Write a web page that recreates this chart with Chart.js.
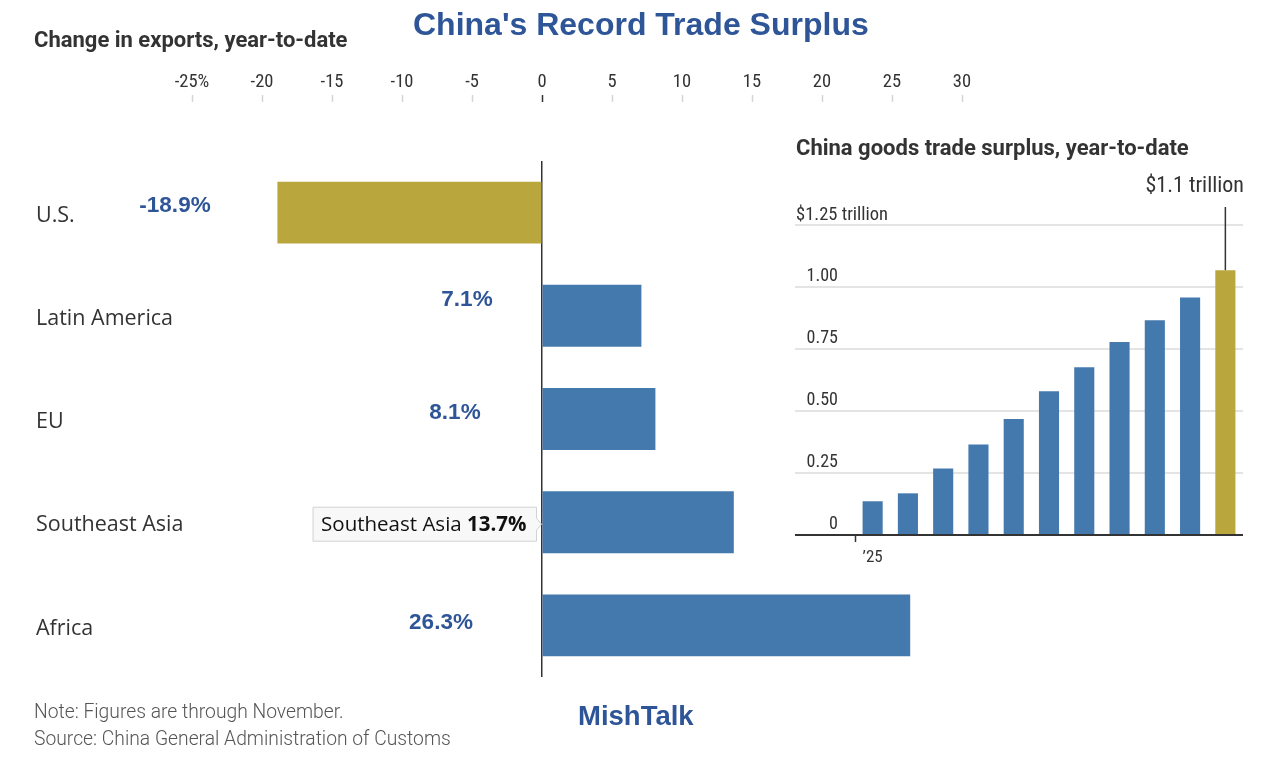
<!DOCTYPE html>
<html>
<head>
<meta charset="utf-8">
<script src="https://cdn.jsdelivr.net/npm/chart.js@4.4.1/dist/chart.umd.min.js"></script>
<style>
  body { margin: 0; background: #fff; width: 1270px; height: 758px; position: relative; overflow: hidden; font-family: Roboto, sans-serif; }
  canvas { position: absolute; }
  #main { left: 0; top: 0; }
  #inset { left: 780px; top: 130px; }
  .txt { position: absolute; white-space: nowrap; }
  .title { left: 413px; top: 6px; line-height: 33px; font: bold 32px "Liberation Sans", Arial, sans-serif; color: #2e5597; }
  .sub { left: 34px; top: 28px; line-height: 24px; font-weight: bold; font-size: 22px; color: #333; }
  .insetTitle { left: 796px; top: 136px; line-height: 24px; font-weight: bold; font-size: 22px; color: #333; }
  .note { left: 34px; line-height: 22px; font-size: 19.3px; font-weight: 300; color: #555; }
  .brand { left: 578px; top: 700px; line-height: 29px; font: bold 27.5px "Liberation Sans", Arial, sans-serif; color: #2e5597; }
</style>
</head>
<body>
<canvas id="main" width="1270" height="758"></canvas>
<canvas id="inset" width="480" height="450"></canvas>

<div class="txt title">China's Record Trade Surplus</div>
<div class="txt sub">Change in exports, year-to-date</div>
<div class="txt insetTitle">China goods trade surplus, year-to-date</div>
<div class="txt note" style="top:701px">Note: Figures are through November.</div>
<div class="txt note" style="top:728px">Source: China General Administration of Customs</div>
<div class="txt brand">MishTalk</div>

<script>
const regions = ['U.S.', 'Latin America', 'EU', 'Southeast Asia', 'Africa'];
const exportChange = [-18.9, 7.1, 8.1, 13.7, 26.3];
const xTickLabels = ['-25%', '-20', '-15', '-10', '-5', '0', '5', '10', '15', '20', '25', '30'];

const months = ['Jan', 'Feb', 'Mar', 'Apr', 'May', 'Jun', 'Jul', 'Aug', 'Sep', 'Oct', 'Nov'];
const surplus = [0.136, 0.168, 0.268, 0.365, 0.468, 0.58, 0.676, 0.778, 0.866, 0.958, 1.068];
const yearLabel = '\u201925';
const surplusTicks = ['0', '0.25', '0.50', '0.75', '1.00', '$1.25 trillion'];
const latestLabel = '$1.1 trillion';

const BLUE = '#4479ad';
const GOLD = '#b9a73e';
const NARROW = '"Liberation Sans Narrow", "Roboto Condensed", Roboto, sans-serif';

// value labels + the Southeast Asia callout
const valueLabels = {
    id: 'valueLabels',
    afterDatasetsDraw(chart) {
        const ctx = chart.ctx;
        const meta = chart.getDatasetMeta(0);
        const zero = chart.scales.x.getPixelForValue(0);
        const spots = [[-367, -7], [-75, -16], [-87, -6], null, [-101, -3]];
        ctx.save();
        meta.data.forEach((bar, i) => {
            const v = exportChange[i];
            if (spots[i]) {
                ctx.font = 'bold 22.5px "Liberation Sans", Arial, sans-serif';
                ctx.fillStyle = '#2e5597';
                ctx.textAlign = 'center';
                ctx.textBaseline = 'middle';
                ctx.fillText(v.toFixed(1) + '%', zero + spots[i][0], bar.y + spots[i][1]);
                return;
            }
            // callout box
            const name = regions[i] + ' ';
            const val = v.toFixed(1) + '%';
            ctx.font = '20.5px "Open Sans", sans-serif';
            const w1 = ctx.measureText(name).width;
            ctx.font = 'bold 20.5px "Open Sans", sans-serif';
            const w2 = ctx.measureText(val).width;
            const right = bar.base - 6;
            const cy = bar.y + 2;
            const left = right - (w1 + w2 + 18);
            ctx.fillStyle = '#f8f8f8';
            ctx.strokeStyle = '#d2d2d2';
            ctx.lineWidth = 1;
            ctx.beginPath();
            ctx.moveTo(left, cy - 17);
            ctx.lineTo(right, cy - 17);
            ctx.lineTo(right, cy - 6);
            ctx.lineTo(right + 5, cy);
            ctx.lineTo(right, cy + 6);
            ctx.lineTo(right, cy + 17);
            ctx.lineTo(left, cy + 17);
            ctx.closePath();
            ctx.fill();
            ctx.stroke();
            ctx.fillStyle = '#111';
            ctx.textAlign = 'left';
            ctx.textBaseline = 'middle';
            ctx.font = '20.5px "Open Sans", sans-serif';
            ctx.fillText(name, left + 8, cy + 1);
            ctx.font = 'bold 20.5px "Open Sans", sans-serif';
            ctx.fillText(val, left + 8 + w1, cy + 1);
        });
        ctx.restore();
    }
};

new Chart(document.getElementById('main'), {
    type: 'bar',
    data: {
        labels: regions,
        datasets: [{
            data: exportChange,
            backgroundColor: exportChange.map(v => v < 0 ? GOLD : BLUE),
            barPercentage: 0.6,
            categoryPercentage: 1
        }]
    },
    options: {
        indexAxis: 'y',
        responsive: false,
        animation: false,
        layout: { padding: { left: 36, right: 308, top: 70, bottom: 81 } },
        plugins: { legend: { display: false }, tooltip: { enabled: false } },
        scales: {
            xt: {
                type: 'linear',
                position: 'top',
                min: -25,
                max: 30,
                weight: 1,
                ticks: {
                    stepSize: 5,
                    autoSkip: false,
                    maxRotation: 0,
                    padding: 2,
                    color: '#333',
                    font: { family: NARROW, size: 18.5 },
                    callback: (v, i) => xTickLabels[i]
                },
                grid: {
                    drawOnChartArea: false,
                    tickLength: 7,
                    tickWidth: 1.5,
                    tickColor: c => c.tick && c.tick.value === 0 ? '#333' : '#d4d4d4'
                },
                border: { display: false },
                afterFit: s => { s.height = 32; }
            },
            x: {
                type: 'linear',
                position: 'top',
                min: -25,
                max: 30,
                weight: 0,
                ticks: { display: false, stepSize: 5 },
                grid: {
                    drawTicks: false,
                    lineWidth: 1.5,
                    color: c => c.tick && c.tick.value === 0 ? '#333' : 'transparent'
                },
                border: { display: false },
                afterFit: s => { s.height = 59; }
            },
            y: {
                ticks: {
                    crossAlign: 'far',
                    labelOffset: 3,
                    color: '#333',
                    font: { family: '"Open Sans", sans-serif', size: 21.5 }
                },
                grid: { display: false },
                border: { display: false },
                afterFit: s => { s.width = 156; }
            }
        }
    },
    plugins: [valueLabels]
});

// inset y labels and the latest-value pointer
const insetLabels = {
    id: 'insetLabels',
    afterDraw(chart) {
        const ctx = chart.ctx;
        const y = chart.scales.y;
        const area = chart.chartArea;
        ctx.save();
        ctx.fillStyle = '#333';
        ctx.textBaseline = 'middle';
        y.ticks.forEach((t, i) => {
            const py = y.getPixelForValue(t.value);
            if (i === y.ticks.length - 1) {
                ctx.font = '18.5px ' + NARROW;
                ctx.textAlign = 'left';
                ctx.fillText(surplusTicks[i], 16, py - 10);
            } else {
                ctx.font = '18px ' + NARROW;
                ctx.textAlign = 'right';
                ctx.fillText(surplusTicks[i], area.left - 17, py - 11);
            }
        });
        const meta = chart.getDatasetMeta(0);
        const last = meta.data[meta.data.length - 1];
        ctx.strokeStyle = '#333';
        ctx.lineWidth = 1.5;
        ctx.beginPath();
        ctx.moveTo(last.x, last.y);
        ctx.lineTo(last.x, 77);
        ctx.stroke();
        ctx.font = '22px ' + NARROW;
        ctx.textAlign = 'right';
        ctx.fillText(latestLabel, area.right + 1, 56);
        ctx.restore();
    }
};

new Chart(document.getElementById('inset'), {
    type: 'bar',
    data: {
        labels: months,
        datasets: [{
            data: surplus,
            backgroundColor: surplus.map((v, i) => i === surplus.length - 1 ? GOLD : BLUE),
            barPercentage: 0.57,
            categoryPercentage: 1
        }]
    },
    options: {
        responsive: false,
        animation: false,
        layout: { padding: { left: 15, right: 17, top: 95, bottom: 10 } },
        plugins: { legend: { display: false }, tooltip: { enabled: false } },
        scales: {
            x: {
                grid: {
                    drawOnChartArea: false,
                    tickLength: 7,
                    tickWidth: 1.5,
                    tickColor: c => c.index === 0 ? '#333' : 'transparent'
                },
                border: { display: false },
                ticks: {
                    autoSkip: false,
                    maxRotation: 0,
                    padding: 6,
                    color: '#333',
                    font: { family: NARROW, size: 17 },
                    callback: (v, i) => i === 0 ? yearLabel : ''
                },
                afterFit: s => { s.height = 35; }
            },
            y: {
                min: 0,
                max: 1.25,
                ticks: { display: false, stepSize: 0.25 },
                grid: {
                    tickLength: 60,
                    lineWidth: 2,
                    color: c => c.tick && c.tick.value === 0 ? '#333' : '#e4e4e4'
                },
                border: { display: false },
                afterFit: s => { s.width = 60; }
            }
        }
    },
    plugins: [insetLabels]
});
</script>
</body>
</html>
